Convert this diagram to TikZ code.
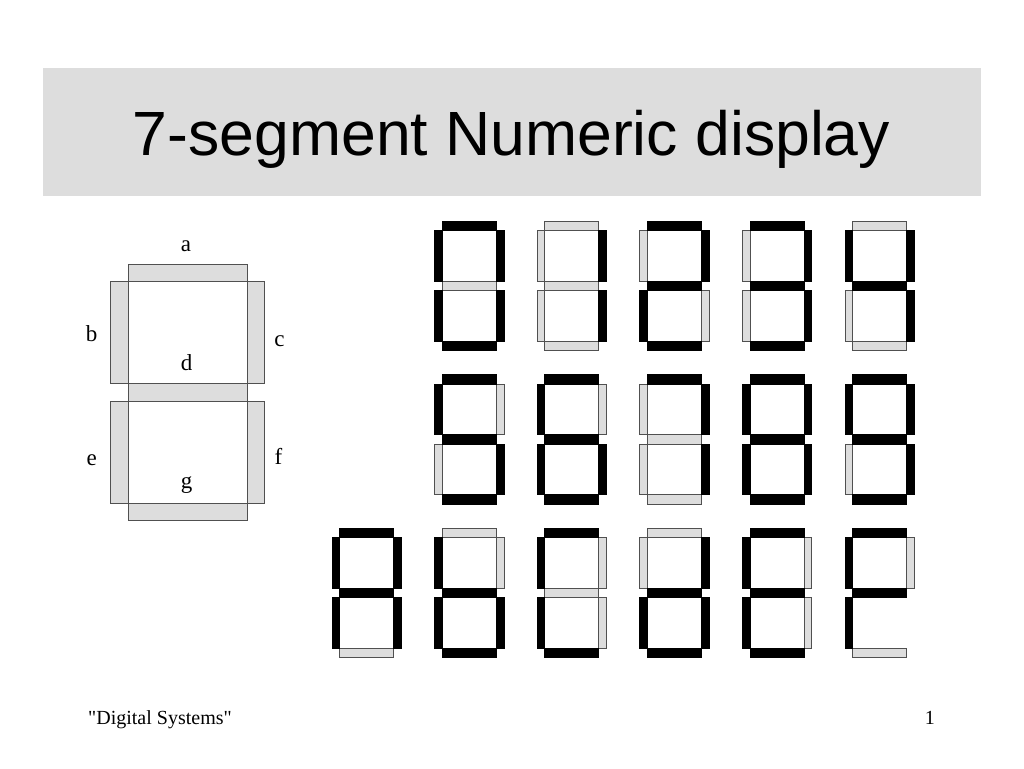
\documentclass[tikz,border=0pt]{standalone}
\usepackage{fontspec}
\setmainfont{Liberation Serif}
\newfontfamily\titlefont{Liberation Sans}
\newfontfamily\footfont{Liberation Serif}
\definecolor{bandgray}{HTML}{DDDDDD}
\definecolor{segoffgray}{HTML}{DDDDDD}
\definecolor{segedge}{HTML}{505050}
\tikzset{
  segon/.style={fill=black, draw=black, line width=1pt},
  segoff/.style={fill=segoffgray, draw=segedge, line width=1pt},
  lbl/.style={font=\fontsize{23}{23}\selectfont, anchor=base, inner sep=0pt},
  foot/.style={font=\footfont\fontsize{20}{20}\selectfont, anchor=base, inner sep=0pt},
  titletext/.style={font=\titlefont\fontsize{62.5}{62.5}\selectfont, anchor=base, inner sep=0pt},
}
% state: 0 = off (gray), 1 = on (black), 2 = not drawn
\newcommand\segrect[5]{\ifnum#1=\pass\relax
  \ifnum#1=1 \path[segon] ({#2},{#3}) rectangle ({#4},{#5});%
  \else \path[segoff] ({#2},{#3}) rectangle ({#4},{#5});\fi\fi}
\newcommand\digitsegs[9]{%
  \segrect{#3}{#1+\Vw}{#2}{#1+\Vw+\Hl}{#2+\Ht}%
  \segrect{#4}{#1}{#2+\Ht}{#1+\Vw}{#2+\Ht+\Vl}%
  \segrect{#5}{#1+\Vw+\Hl}{#2+\Ht}{#1+2*\Vw+\Hl}{#2+\Ht+\Vl}%
  \segrect{#6}{#1+\Vw}{#2+\Ht+\Vl}{#1+\Vw+\Hl}{#2+2*\Ht+\Vl}%
  \segrect{#7}{#1}{#2+2*\Ht+\Vl}{#1+\Vw}{#2+2*\Ht+2*\Vl}%
  \segrect{#8}{#1+\Vw+\Hl}{#2+2*\Ht+\Vl}{#1+2*\Vw+\Hl}{#2+2*\Ht+2*\Vl}%
  \segrect{#9}{#1+\Vw}{#2+2*\Ht+2*\Vl}{#1+\Vw+\Hl}{#2+3*\Ht+2*\Vl}%
}
\newcommand\digitat[9]{%
  \def\pass{0}\digitsegs{#1}{#2}{#3}{#4}{#5}{#6}{#7}{#8}{#9}%
  \def\pass{1}\digitsegs{#1}{#2}{#3}{#4}{#5}{#6}{#7}{#8}{#9}%
}
\begin{document}
\begin{tikzpicture}[x=1pt,y=-1pt]
\useasboundingbox[fill=white] (0,0) rectangle (1024,768);
% title band
\fill[bandgray] (42.7,68.3) rectangle (981,195.7);
\node[titletext] (title) at (511.5,155.7) {7-segment Numeric display};
% large labelled diagram
\def\Vw{17.6}\def\Ht{17.2}\def\Hl{119}\def\Vl{102.3}
\digitat{110.7}{264.3}{0}{0}{0}{0}{0}{0}{0}
\node[lbl] (la) at (186,251.7) {a};
\node[lbl] (lb) at (91.7,341.7) {b};
\node[lbl] (lc) at (279.5,346) {c};
\node[lbl] (ld) at (186.7,370.7) {d};
\node[lbl] (le) at (91.7,465.7) {e};
\node[lbl] (lf) at (278.5,464.3) {f};
\node[lbl] (lg) at (186.7,488.3) {g};
% small digits
\def\Vw{7.7}\def\Ht{9.2}\def\Hl{54}\def\Vl{50.8}
% row 1: 0 1 2 3 4
\digitat{434.6}{221}{1}{1}{1}{0}{1}{1}{1}
\digitat{537.2}{221}{0}{0}{1}{0}{0}{1}{0}
\digitat{639.8}{221}{1}{0}{1}{1}{1}{0}{1}
\digitat{742.4}{221}{1}{0}{1}{1}{0}{1}{1}
\digitat{845.0}{221}{0}{1}{1}{1}{0}{1}{0}
% row 2: 5 6 7 8 9
\digitat{434.6}{374.8}{1}{1}{0}{1}{0}{1}{1}
\digitat{537.2}{374.8}{1}{1}{0}{1}{1}{1}{1}
\digitat{639.8}{374.8}{1}{0}{1}{0}{0}{1}{0}
\digitat{742.4}{374.8}{1}{1}{1}{1}{1}{1}{1}
\digitat{845.0}{374.8}{1}{1}{1}{1}{0}{1}{1}
% row 3: A b C d E F
\digitat{332.0}{528.4}{1}{1}{1}{1}{1}{1}{0}
\digitat{434.6}{528.4}{0}{1}{0}{1}{1}{1}{1}
\digitat{537.2}{528.4}{1}{1}{0}{0}{1}{0}{1}
\digitat{639.8}{528.4}{0}{0}{1}{1}{1}{1}{1}
\digitat{742.4}{528.4}{1}{1}{0}{1}{1}{0}{1}
\digitat{845.0}{528.4}{1}{1}{0}{1}{1}{2}{0}
% footer
\node[foot, anchor=base west] (footl) at (88,724.5) {"Digital Systems"};
\node[foot, anchor=base east] (footr) at (935,724.5) {1};
\end{tikzpicture}
\end{document}
